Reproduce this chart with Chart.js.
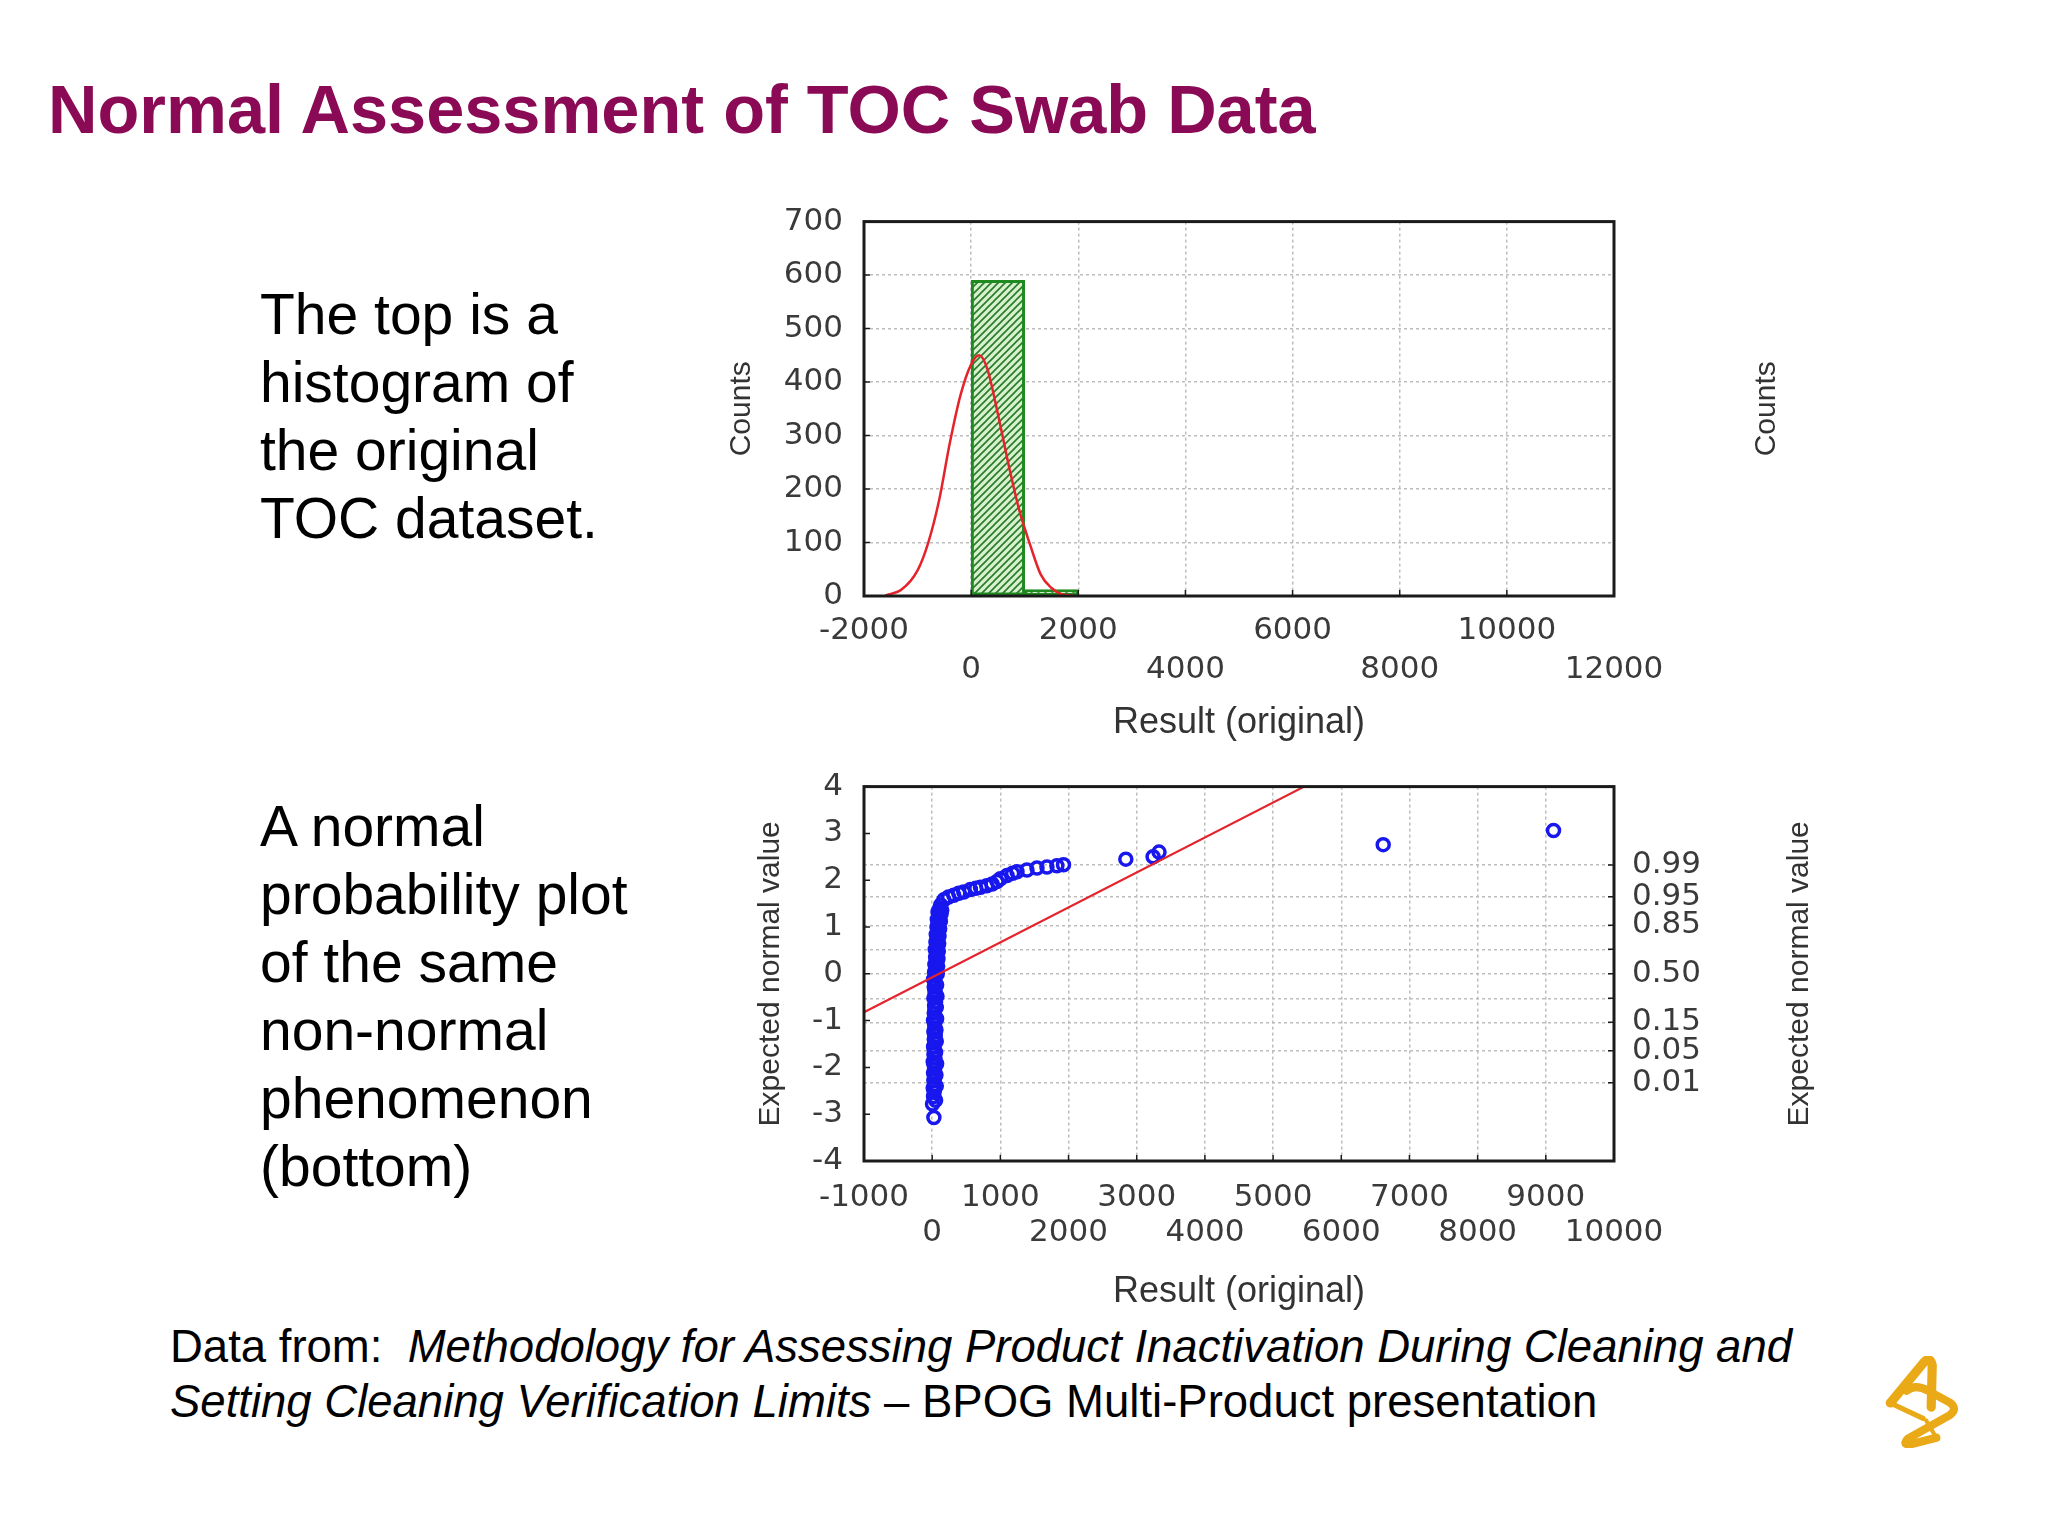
<!DOCTYPE html>
<html lang="en">
<head>
  <meta charset="UTF-8">
  <title>Normal Assessment of TOC Swab Data</title>
  <style>
    body {
      margin: 0;
      width: 2048px;
      height: 1536px;
      background: #fff;
      position: relative;
      overflow: hidden;
      font-family: "Liberation Sans", Arial, sans-serif;
    }
    .title {
      position: absolute;
      left: 48px;
      top: 76px;
      font-size: 68.5px;
      line-height: 68px;
      font-weight: bold;
      color: #8a0a55;
      white-space: nowrap;
    }
    .note {
      position: absolute;
      left: 260px;
      font-size: 57px;
      line-height: 68px;
      color: #000;
    }
    .source {
      position: absolute;
      left: 170px;
      top: 1319px;
      font-size: 45.5px;
      line-height: 55px;
      color: #000;
      white-space: nowrap;
    }
    canvas {
      position: absolute;
    }
    .logo {
      position: absolute;
      left: 1884px;
      top: 1356px;
    }
  </style>
</head>
<body>

  <div class="title">Normal Assessment of TOC Swab Data</div>

  <div class="note" style="top: 280px;">The top is a<br>histogram of<br>the original<br>TOC dataset.</div>
  <div class="note" style="top: 792px;">A normal<br>probability plot<br>of the same<br>non-normal<br>phenomenon<br>(bottom)</div>

  <canvas id="histChart" width="1200" height="570" style="left: 700px; top: 182px;"></canvas>
  <canvas id="probChart" width="1200" height="570" style="left: 700px; top: 747px;"></canvas>

  <div class="source">Data from:&nbsp; <i>Methodology for Assessing Product Inactivation During Cleaning and</i><br><i>Setting Cleaning Verification Limits</i> – BPOG Multi-Product presentation</div>

  <svg class="logo" width="76" height="92" viewBox="0 0 74 90">
    <g fill="none" stroke="#eaa917" stroke-linecap="round" stroke-linejoin="round">
      <path d="M6 46 L39 6 Q45 0 47 9 L46 50" stroke-width="9"/>
      <path d="M6 46 L38 61" stroke-width="5"/>
      <path d="M22 34 Q30 27 43 34 L65 46 Q72 52 64 58 L23 81 Q17 88 27 86 L51 80" stroke-width="8"/>
      <path d="M51 80 L41 63" stroke-width="4"/>
    </g>
  </svg>

<script type="text/javascript" src="https://cdn.jsdelivr.net/npm/chart.js/dist/chart.umd.min.js"></script>
<script>
  // ---- histogram (top) ----
  const binCenters = [500, 1500];
  const binCounts = [590, 12];
  // fitted normal curve
  const curveX = [-1600, -1300, -1000, -800, -600, -400, -200, 0, 150, 300, 500, 700, 900, 1100, 1300, 1500, 1700, 1900];
  const curveY = [1, 12, 48, 100, 178, 285, 375, 433, 450, 425, 340, 245, 160, 96, 40, 15, 3, 1];

  // ---- normal probability plot (bottom) ----
  const probX = [25, 5, 20, 30, 15, 35, 25, 40, 20, 35, 30, 15, 40, 25, 35, 20, 40, 30, 45, 25,
    40, 35, 20, 45, 30, 40, 35, 50, 25, 45, 40, 30, 50, 20, 45, 35, 55, 40, 60, 50,
    65, 45, 70, 55, 75, 60, 80, 70, 90, 75, 100, 85, 110, 125,
    50, 60, 55, 65, 50, 60, 55, 65, 60, 70, 65, 75, 80, 85, 90, 95, 100, 110, 120, 130, 140,
    171, 240, 317, 390, 463, 561, 640, 708, 800, 880, 951, 1000, 1098, 1180, 1244, 1390,
    1537, 1683, 1829, 1926, 2840, 3240, 3327, 6615, 9113];
  const probZ = [-3.07, -2.78, -2.62, -2.52, -2.44, -2.36, -2.28, -2.2, -2.12, -2.04, -1.96, -1.88, -1.8, -1.72, -1.64, -1.56, -1.48, -1.4, -1.32, -1.24,
    -1.16, -1.08, -1.0, -0.92, -0.84, -0.76, -0.68, -0.6, -0.52, -0.44, -0.36, -0.28, -0.2, -0.12, -0.04, 0.04, 0.12, 0.2, 0.28, 0.36,
    0.44, 0.52, 0.6, 0.68, 0.76, 0.84, 0.92, 1.0, 1.08, 1.16, 1.24, 1.32, 1.4, 1.47,
    -2.7, -2.4, -2.16, -1.92, -1.68, -1.44, -1.2, -0.96, -0.72, -0.48, -0.24, 0.0, 0.16, 0.32, 0.48, 0.64, 0.8, 0.96, 1.12, 1.28, 1.36,
    1.58, 1.64, 1.68, 1.72, 1.75, 1.8, 1.83, 1.85, 1.88, 1.92, 1.97, 2.03, 2.1, 2.15, 2.18, 2.22,
    2.26, 2.28, 2.31, 2.33, 2.45, 2.5, 2.6, 2.76, 3.06];
  const fitLineX = [-1000, 5457];
  const fitLineZ = [-0.82, 4];
  // right axis: cumulative probability levels and where they sit on the z scale
  const probLevels = [-2.326, -1.645, -1.036, -0.524, 0, 0.524, 1.036, 1.645, 2.326];
  const probLabels = ['0.01', '0.05', '0.15', '', '0.50', '', '0.85', '0.95', '0.99'];

  Chart.defaults.font.family = '"DejaVu Sans", sans-serif';
  Chart.defaults.color = '#3a3a3a';

  // hatched fill for the histogram bars
  const tile = document.createElement('canvas');
  tile.width = 7;
  tile.height = 7;
  const tctx = tile.getContext('2d');
  tctx.fillStyle = '#d6f1cd';
  tctx.fillRect(0, 0, 7, 7);
  tctx.strokeStyle = '#2a7a2a';
  tctx.lineWidth = 1.6;
  tctx.beginPath();
  tctx.moveTo(-1, 8); tctx.lineTo(8, -1);
  tctx.moveTo(-4.5, 4.5); tctx.lineTo(4.5, -4.5);
  tctx.moveTo(2.5, 11.5); tctx.lineTo(11.5, 2.5);
  tctx.stroke();
  const hatch = tctx.createPattern(tile, 'repeat');

  // black box round the plot + small inward ticks
  const plotFrame = {
    id: 'plotFrame',
    afterDraw(chart) {
      const { ctx, chartArea: a } = chart;
      ctx.save();
      ctx.strokeStyle = '#1a1a1a';
      ctx.lineWidth = 1.5;
      ctx.beginPath();
      Object.values(chart.scales).forEach(s => {
        s.ticks.forEach(t => {
          const p = s.getPixelForValue(t.value);
          if (s.axis === 'x') {
            ctx.moveTo(p, a.bottom); ctx.lineTo(p, a.bottom - 6);
          } else if (s.position === 'left') {
            ctx.moveTo(a.left, p); ctx.lineTo(a.left + 6, p);
          } else {
            ctx.moveTo(a.right, p); ctx.lineTo(a.right - 6, p);
          }
        });
      });
      ctx.stroke();
      ctx.lineWidth = 3;
      ctx.strokeRect(a.left, a.top, a.width, a.height);
      ctx.restore();
    }
  };

  // the extra axis title on the right side, reading bottom to top
  const sideTitle = {
    id: 'sideTitle',
    afterDraw(chart, args, opts) {
      if (!opts.text) return;
      const { ctx, chartArea: a } = chart;
      ctx.save();
      ctx.translate(a.right + opts.offset, (a.top + a.bottom) / 2);
      ctx.rotate(-Math.PI / 2);
      ctx.font = '30px "Liberation Sans", Arial, sans-serif';
      ctx.fillStyle = '#333';
      ctx.textAlign = 'center';
      ctx.textBaseline = 'middle';
      ctx.fillText(opts.text, 0, 0);
      ctx.restore();
    }
  };

  const dotted = { color: '#bdbdbd', lineWidth: 1.5, drawTicks: false };
  const staggered = (value, index) => index % 2 === 0 ? [String(value), ''] : ['', String(value)];
  const titleFont = size => ({ family: '"Liberation Sans", Arial, sans-serif', size });

  new Chart(document.getElementById('histChart'), {
    type: 'bar',
    data: {
      datasets: [{
        type: 'line',
        data: curveX.map((x, i) => ({ x, y: curveY[i] })),
        borderColor: '#e5232b',
        borderWidth: 2.5,
        pointRadius: 0,
        cubicInterpolationMode: 'monotone',
        order: 0
      }, {
        data: binCenters.map((x, i) => ({ x, y: binCounts[i] })),
        backgroundColor: hatch,
        borderColor: '#1f8a1f',
        borderWidth: 3,
        borderSkipped: false,
        barPercentage: 1,
        categoryPercentage: 1,
        order: 1
      }]
    },
    options: {
      responsive: false,
      animation: false,
      layout: { padding: { left: 0, right: 286, top: 0, bottom: 6 } },
      scales: {
        x: {
          type: 'linear',
          min: -2000,
          max: 12000,
          offset: false,
          grid: { ...dotted, offset: false },
          border: { display: false, dash: [3, 3] },
          ticks: {
            stepSize: 2000,
            autoSkip: false,
            maxRotation: 0,
            padding: 15,
            font: { size: 31, lineHeight: 1.26 },
            callback: staggered
          },
          title: {
            display: true,
            text: 'Result (original)',
            color: '#333',
            font: titleFont(36),
            padding: { top: 0, bottom: 1 }
          },
          afterFit: s => { s.height = 150; }
        },
        y: {
          min: 0,
          max: 700,
          grid: dotted,
          border: { display: false, dash: [3, 3] },
          ticks: { stepSize: 100, padding: 21, font: { size: 31 } },
          title: {
            display: true,
            text: 'Counts',
            color: '#333',
            font: titleFont(30),
            padding: { top: 24, bottom: 0 }
          },
          afterFit: s => { s.width = 164; }
        }
      },
      plugins: {
        legend: { display: false },
        tooltip: { enabled: false },
        sideTitle: { text: 'Counts', offset: 153 }
      }
    },
    plugins: [plotFrame, sideTitle]
  });

  new Chart(document.getElementById('probChart'), {
    type: 'scatter',
    data: {
      datasets: [{
        type: 'line',
        data: fitLineX.map((x, i) => ({ x, y: fitLineZ[i] })),
        borderColor: '#e5232b',
        borderWidth: 2.2,
        pointRadius: 0,
        order: 0
      }, {
        data: probX.map((x, i) => ({ x, y: probZ[i] })),
        pointStyle: 'circle',
        pointRadius: 6,
        borderWidth: 3.5,
        borderColor: '#1717ee',
        backgroundColor: 'rgba(0,0,0,0)',
        order: 1
      }]
    },
    options: {
      responsive: false,
      animation: false,
      layout: { padding: { left: 0, right: 0, top: 0, bottom: 3 } },
      scales: {
        x: {
          type: 'linear',
          min: -1000,
          max: 10000,
          grid: dotted,
          border: { display: false, dash: [3, 3] },
          ticks: {
            stepSize: 1000,
            autoSkip: false,
            maxRotation: 0,
            padding: 19,
            font: { size: 31, lineHeight: 1.129 },
            callback: staggered
          },
          title: {
            display: true,
            text: 'Result (original)',
            color: '#333',
            font: titleFont(36),
            padding: { top: 0, bottom: 0 }
          },
          afterFit: s => { s.height = 153; }
        },
        y: {
          min: -4,
          max: 4,
          grid: { drawOnChartArea: false, drawTicks: false },
          border: { display: false },
          ticks: { stepSize: 1, padding: 21, font: { size: 31 } },
          title: {
            display: true,
            text: 'Expected normal value',
            color: '#333',
            font: titleFont(30),
            padding: { top: 52.5, bottom: 0 }
          },
          afterFit: s => { s.width = 164; }
        },
        y2: {
          position: 'right',
          min: -4,
          max: 4,
          grid: dotted,
          border: { display: false, dash: [3, 3] },
          afterBuildTicks: s => { s.ticks = probLevels.map(v => ({ value: v })); },
          ticks: {
            autoSkip: false,
            padding: 18,
            font: { size: 31 },
            callback: (value, index) => probLabels[index]
          },
          afterFit: s => { s.width = 286; }
        }
      },
      plugins: {
        legend: { display: false },
        tooltip: { enabled: false },
        sideTitle: { text: 'Expected normal value', offset: 186 }
      }
    },
    plugins: [plotFrame, sideTitle]
  });
</script>
</body>
</html>
